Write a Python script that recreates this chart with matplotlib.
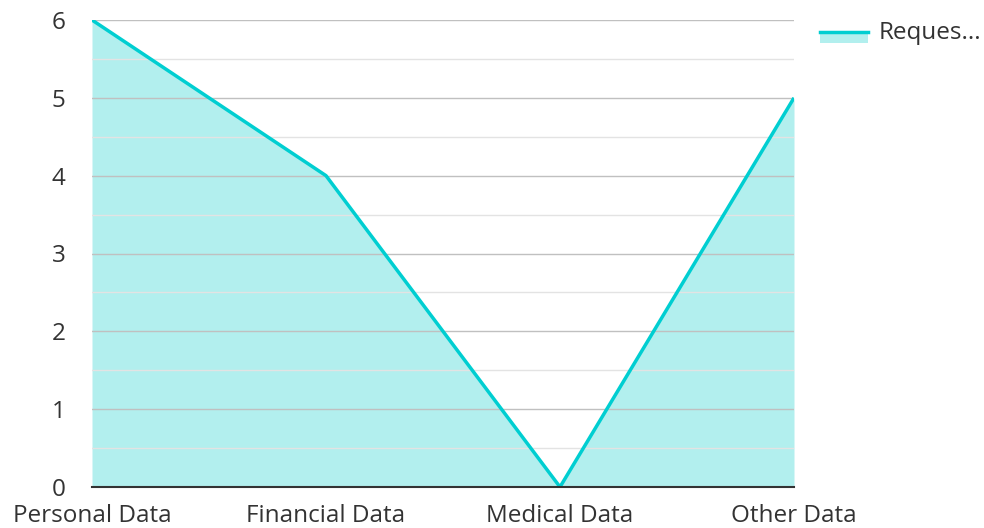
import matplotlib.pyplot as plt
from matplotlib.patches import Rectangle
from matplotlib.lines import Line2D
import numpy as np

categories = ["Personal Data", "Financial Data", "Medical Data", "Other Data"]
values = [6, 4, 0, 5]
series_name = "Reques..."

line_color = "#00CED1"
fill_color = "#B2EFEE"
text_color = "#333333"

plt.rcParams['font.family'] = ['Open Sans', 'DejaVu Sans']

fig = plt.figure(figsize=(9.84, 5.28), dpi=100)
ax = fig.add_axes([92/984, 1-487/528, (794-92)/984, (487-20)/528])

x = np.arange(len(categories))
ax.fill_between(x, values, 0, color=fill_color, linewidth=0, zorder=1)
ax.plot(x, values, color=line_color, linewidth=2.5, zorder=3, solid_capstyle='butt')

ax.set_xlim(0, len(categories)-1)
ax.set_ylim(0, 6)
ax.set_yticks(range(0, 7))
ax.set_yticks(np.arange(0.5, 6, 1), minor=True)
ax.grid(axis='y', which='major', color='#c0c0c0', linewidth=1, zorder=2)
ax.grid(axis='y', which='minor', color='#e3e3e3', linewidth=1, zorder=2)
ax.set_axisbelow(False)
ax.set_xticks(x)
ax.set_xticklabels(categories)
ax.tick_params(axis='both', which='both', length=0, labelsize=17.5, colors=text_color)
ax.tick_params(axis='y', pad=19)
ax.tick_params(axis='x', pad=12)
for s in ['top', 'right', 'left']:
    ax.spines[s].set_visible(False)
ax.spines['bottom'].set_color(text_color)
ax.spines['bottom'].set_linewidth(1.5)
ax.spines['bottom'].set_zorder(4)

# legend
fig.patches.append(Rectangle((820/984, 1-43/528), 48/984, 12/528, transform=fig.transFigure,
                             facecolor=fill_color, edgecolor='none'))
fig.lines.append(Line2D([820/984, 868/984], [1-32/528, 1-32/528], transform=fig.transFigure,
                        color=line_color, linewidth=2.5))
fig.text(879/984, 1-33/528, series_name, fontsize=17.5, color=text_color, va='center', ha='left')

fig.savefig("out.png", dpi=100)
